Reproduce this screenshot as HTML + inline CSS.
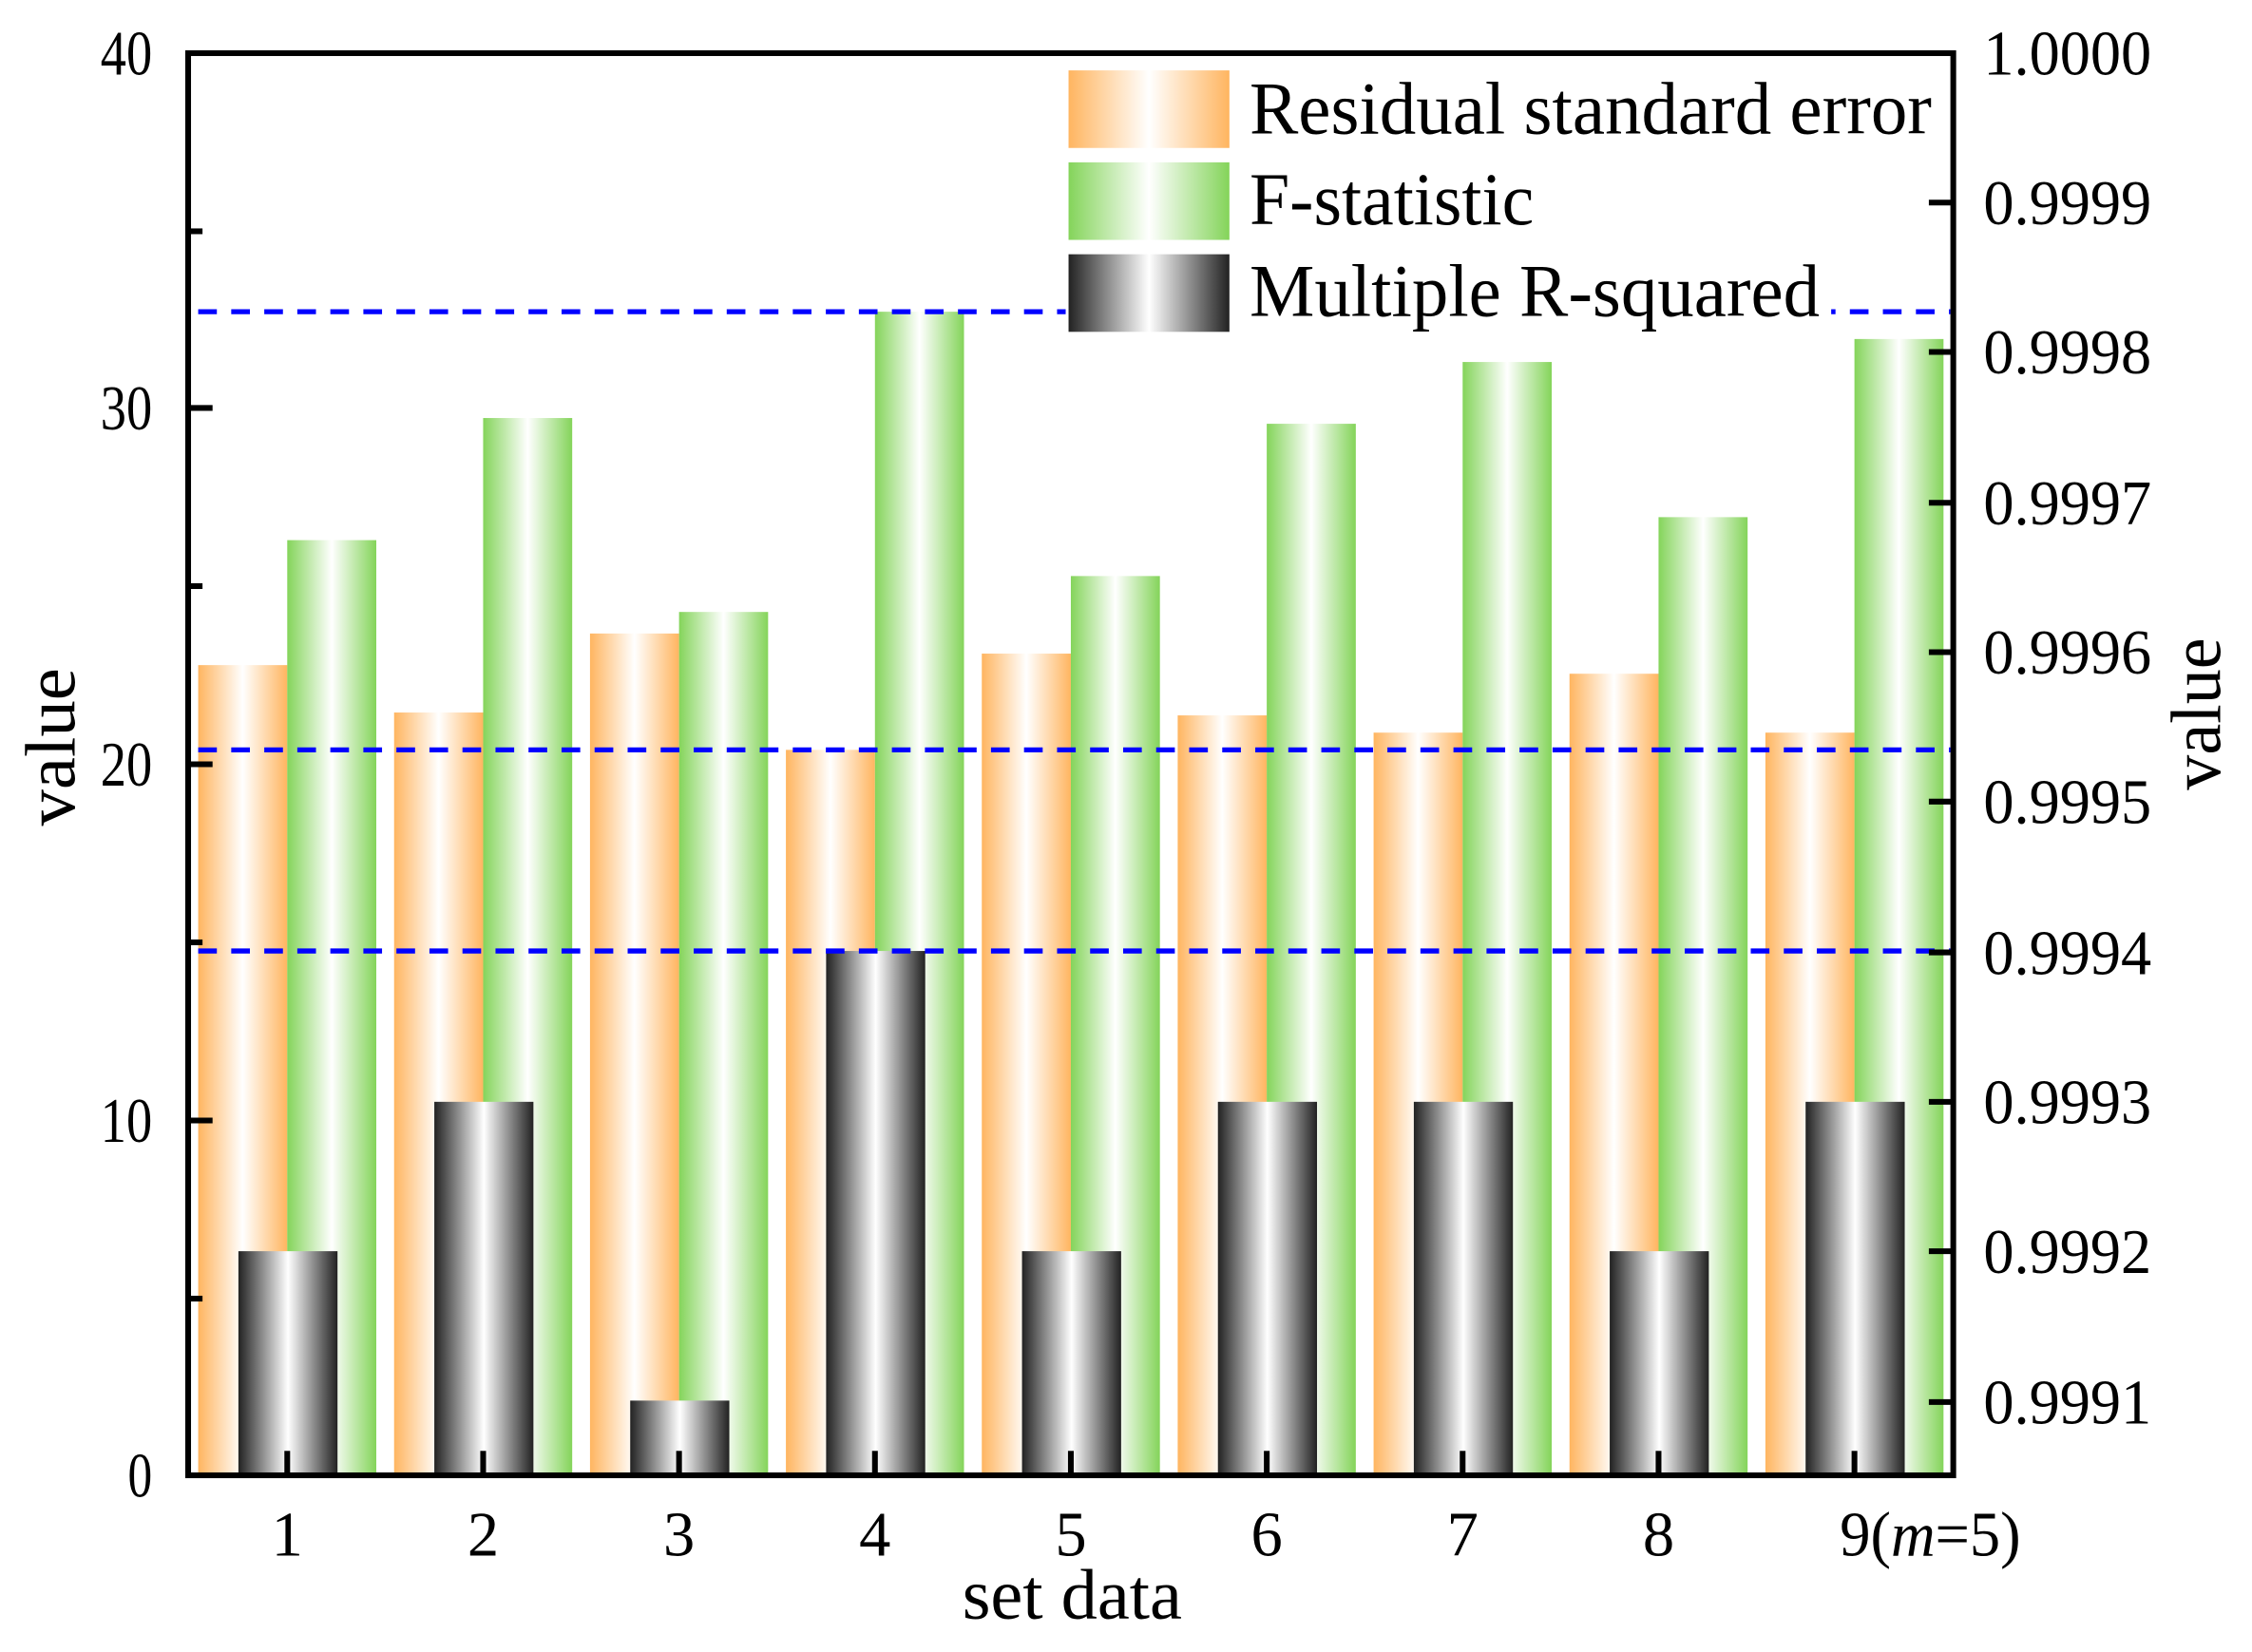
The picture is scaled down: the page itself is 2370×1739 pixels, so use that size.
<!DOCTYPE html>
<html><head><meta charset="utf-8"><style>
html,body{margin:0;padding:0;background:#fff;}
svg{display:block;}
text{font-family:"Liberation Serif",serif;fill:#000;}
</style></head><body>
<svg width="2370" height="1739" viewBox="0 0 1568 1150" preserveAspectRatio="none" xmlns="http://www.w3.org/2000/svg">
<defs>
<linearGradient id="go" x1="0" x2="1" y1="0" y2="0"><stop offset="0" stop-color="#FFB560"/><stop offset="0.5" stop-color="#FFFFFF"/><stop offset="1" stop-color="#FFB560"/></linearGradient>
<linearGradient id="gg" x1="0" x2="1" y1="0" y2="0"><stop offset="0" stop-color="#84D45A"/><stop offset="0.5" stop-color="#FFFFFF"/><stop offset="1" stop-color="#84D45A"/></linearGradient>
<linearGradient id="gk" x1="0" x2="1" y1="0" y2="0"><stop offset="0" stop-color="#222"/><stop offset="0.5" stop-color="#FFFFFF"/><stop offset="1" stop-color="#222"/></linearGradient>
</defs>
<rect width="1568" height="1150" fill="#fff"/>
<g id="bars">
<rect x="138" y="463" width="62" height="564" fill="url(#go)"/><rect x="200" y="376" width="62" height="651" fill="url(#gg)"/><rect x="166" y="871" width="69" height="156" fill="url(#gk)"/>
<rect x="274.4" y="496" width="62" height="531" fill="url(#go)"/><rect x="336.4" y="291" width="62" height="736" fill="url(#gg)"/><rect x="302.4" y="767" width="69" height="260" fill="url(#gk)"/>
<rect x="410.8" y="441" width="62" height="586" fill="url(#go)"/><rect x="472.8" y="426" width="62" height="601" fill="url(#gg)"/><rect x="438.8" y="975" width="69" height="52" fill="url(#gk)"/>
<rect x="547.2" y="522" width="62" height="505" fill="url(#go)"/><rect x="609.2" y="217" width="62" height="810" fill="url(#gg)"/><rect x="575.2" y="662" width="69" height="365" fill="url(#gk)"/>
<rect x="683.6" y="455" width="62" height="572" fill="url(#go)"/><rect x="745.6" y="401" width="62" height="626" fill="url(#gg)"/><rect x="711.6" y="871" width="69" height="156" fill="url(#gk)"/>
<rect x="820" y="498" width="62" height="529" fill="url(#go)"/><rect x="882" y="295" width="62" height="732" fill="url(#gg)"/><rect x="848" y="767" width="69" height="260" fill="url(#gk)"/>
<rect x="956.4" y="510" width="62" height="517" fill="url(#go)"/><rect x="1018.4" y="252" width="62" height="775" fill="url(#gg)"/><rect x="984.4" y="767" width="69" height="260" fill="url(#gk)"/>
<rect x="1092.8" y="469" width="62" height="558" fill="url(#go)"/><rect x="1154.8" y="360" width="62" height="667" fill="url(#gg)"/><rect x="1120.8" y="871" width="69" height="156" fill="url(#gk)"/>
<rect x="1229.2" y="510" width="62" height="517" fill="url(#go)"/><rect x="1291.2" y="236" width="62" height="791" fill="url(#gg)"/><rect x="1257.2" y="767" width="69" height="260" fill="url(#gk)"/>
</g>
<g stroke="#0000FF" stroke-width="3.5" stroke-dasharray="13,10">
<line x1="138" y1="217" x2="1358" y2="217"/>
<line x1="138" y1="522" x2="1358" y2="522"/>
<line x1="138" y1="662" x2="1358" y2="662"/>
</g>
<rect x="742" y="44" width="533" height="192" fill="#fff"/>
<rect x="744" y="49" width="112" height="54" fill="url(#go)"/>
<rect x="744" y="113" width="112" height="54" fill="url(#gg)"/>
<rect x="744" y="177" width="112" height="54" fill="url(#gk)"/>
<text x="870" y="93" font-size="52" textLength="475" lengthAdjust="spacingAndGlyphs">Residual standard error</text>
<text x="870" y="156" font-size="52" textLength="198" lengthAdjust="spacingAndGlyphs">F-statistic</text>
<text x="870" y="220" font-size="52" textLength="397" lengthAdjust="spacingAndGlyphs">Multiple R-squared</text>
<rect x="131" y="37" width="1229" height="990" fill="none" stroke="#000" stroke-width="4"/>
<g stroke="#000" stroke-width="4">
<line x1="131" y1="284" x2="148" y2="284"/><line x1="131" y1="532" x2="148" y2="532"/><line x1="131" y1="780" x2="148" y2="780"/>
<line x1="131" y1="161" x2="141" y2="161"/><line x1="131" y1="408" x2="141" y2="408"/><line x1="131" y1="656" x2="141" y2="656"/><line x1="131" y1="904" x2="141" y2="904"/>
<line x1="1343" y1="141" x2="1360" y2="141"/><line x1="1343" y1="245" x2="1360" y2="245"/><line x1="1343" y1="350" x2="1360" y2="350"/><line x1="1343" y1="454" x2="1360" y2="454"/><line x1="1343" y1="558" x2="1360" y2="558"/><line x1="1343" y1="663" x2="1360" y2="663"/><line x1="1343" y1="767" x2="1360" y2="767"/><line x1="1343" y1="871" x2="1360" y2="871"/><line x1="1343" y1="976" x2="1360" y2="976"/>
<line x1="200" y1="1027" x2="200" y2="1010"/><line x1="336.4" y1="1027" x2="336.4" y2="1010"/><line x1="472.8" y1="1027" x2="472.8" y2="1010"/><line x1="609.2" y1="1027" x2="609.2" y2="1010"/><line x1="745.6" y1="1027" x2="745.6" y2="1010"/><line x1="882" y1="1027" x2="882" y2="1010"/><line x1="1018.4" y1="1027" x2="1018.4" y2="1010"/><line x1="1154.8" y1="1027" x2="1154.8" y2="1010"/><line x1="1291.2" y1="1027" x2="1291.2" y2="1010"/>
</g>
<g font-size="44">
<text x="70" y="52" textLength="36" lengthAdjust="spacingAndGlyphs">40</text><text x="70" y="299" textLength="36" lengthAdjust="spacingAndGlyphs">30</text><text x="70" y="547" textLength="36" lengthAdjust="spacingAndGlyphs">20</text><text x="70" y="795" textLength="36" lengthAdjust="spacingAndGlyphs">10</text><text x="89" y="1042" textLength="17" lengthAdjust="spacingAndGlyphs">0</text>
</g>
<g font-size="44">
<text x="1381" y="52" textLength="117" lengthAdjust="spacingAndGlyphs">1.0000</text>
<text x="1381" y="156" textLength="117" lengthAdjust="spacingAndGlyphs">0.9999</text>
<text x="1381" y="260" textLength="117" lengthAdjust="spacingAndGlyphs">0.9998</text>
<text x="1381" y="365" textLength="117" lengthAdjust="spacingAndGlyphs">0.9997</text>
<text x="1381" y="469" textLength="117" lengthAdjust="spacingAndGlyphs">0.9996</text>
<text x="1381" y="573" textLength="117" lengthAdjust="spacingAndGlyphs">0.9995</text>
<text x="1381" y="678" textLength="117" lengthAdjust="spacingAndGlyphs">0.9994</text>
<text x="1381" y="782" textLength="117" lengthAdjust="spacingAndGlyphs">0.9993</text>
<text x="1381" y="886" textLength="117" lengthAdjust="spacingAndGlyphs">0.9992</text>
<text x="1381" y="991" textLength="117" lengthAdjust="spacingAndGlyphs">0.9991</text>
</g>
<g font-size="44" text-anchor="middle">
<text x="200" y="1083">1</text><text x="336.4" y="1083">2</text><text x="472.8" y="1083">3</text><text x="609.2" y="1083">4</text><text x="745.6" y="1083">5</text><text x="882" y="1083">6</text><text x="1018.4" y="1083">7</text><text x="1154.8" y="1083">8</text>
</g>
<text x="1281" y="1083" font-size="44" textLength="126" lengthAdjust="spacingAndGlyphs">9(<tspan font-style="italic">m</tspan>=5)</text>
<text x="670" y="1127" font-size="50" textLength="153" lengthAdjust="spacingAndGlyphs">set data</text>
<text transform="translate(52,575) rotate(-90)" font-size="50" textLength="110" lengthAdjust="spacingAndGlyphs">value</text>
<text transform="translate(1546,550) rotate(-90)" font-size="50" textLength="106" lengthAdjust="spacingAndGlyphs">value</text>
</svg>
</body></html>
